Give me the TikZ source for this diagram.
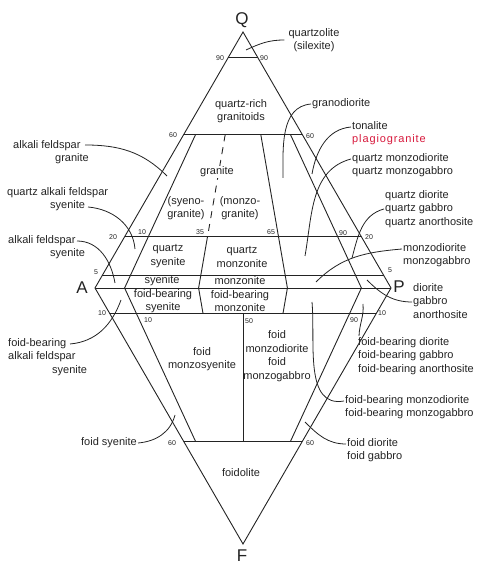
\documentclass[tikz,border=0pt]{standalone}
\usepackage{fontspec}
\setmainfont{Liberation Sans}
\newfontfamily\plagiofont[LetterSpace=8]{Liberation Sans}
\usetikzlibrary{calc}
\definecolor{ink}{RGB}{35,35,35}
\definecolor{plagio}{RGB}{215,25,60}

\begin{document}
\begin{tikzpicture}[x=1pt,y=1pt,
    ln/.style={line width=0.9pt,draw=ink},
    lead/.style={line width=0.8pt,draw=ink},
    lbl/.style={font=\fontsize{11}{13.5}\selectfont,text=ink,inner sep=1pt},
    fld/.style={lbl,align=center},
    num/.style={font=\fontsize{7}{7}\selectfont,text=ink,inner sep=0pt},
    vtx/.style={font=\fontsize{17}{17}\selectfont,text=ink,inner sep=0pt}]
  \useasboundingbox (0,0) rectangle (500,569);

  \coordinate (A) at (95,281);
  \coordinate (P) at (391,281);
  \coordinate (Q) at (243,537);
  \coordinate (F) at (243,25);
  \foreach \r in {10,35,50,65,90}
    \coordinate (b\r) at ($(A)!0.\r!(P)$);

  \draw[ln] (Q) -- (A) -- (F) -- (P) -- cycle;
  \draw[ln] (A) -- (P);
  \foreach \q in {0.9,0.6,0.2,0.05}
    \draw[ln] ($(A)!\q!(Q)$) -- ($(P)!\q!(Q)$);
  \foreach \f in {0.1,0.6}
    \draw[ln] ($(A)!\f!(F)$) -- ($(P)!\f!(F)$);
  \draw[ln] ($(b10)!0.6!(Q)$) -- (b10) -- ($(b10)!0.6!(F)$);
  \draw[ln] ($(b90)!0.6!(Q)$) -- (b90) -- ($(b90)!0.6!(F)$);
  \draw[ln] ($(b65)!0.6!(Q)$) -- (b65) -- ($(b65)!0.1!(F)$);
  \draw[ln] ($(b35)!0.2!(Q)$) -- (b35) -- ($(b35)!0.1!(F)$);
  \draw[ln,dash pattern=on 7pt off 6pt] ($(b35)!0.6!(Q)$) -- ($(b35)!0.2!(Q)$);
  \draw[ln] ($(b50)!0.1!(F)$) -- ($(b50)!0.6!(F)$);

  \node[vtx] (Qlbl) at (242,549) {Q};
  \node[vtx] (Albl) at (82,281) {A};
  \node[vtx] (Plbl) at (399,282) {P};
  \node[vtx] (Flbl) at (242,13) {F};

  \node[fld] (qrich) at (241,458) {quartz-rich\\granitoids};
  \node[fld,fill=white] (granite) at (217,397) {granite};
  \node[fld] (syeno) at (186,361) {(syeno-\\granite)};
  \node[fld] (monzo) at (240,361) {(monzo-\\granite)};
  \node[fld] (qsy) at (168,313) {quartz\\syenite};
  \node[fld] (qmz) at (242,312) {quartz\\monzonite};
  \node[fld] (sy) at (162,288) {syenite};
  \node[fld] (mz) at (240,288) {monzonite};
  \node[fld] (fbsy) at (163,268) {foid-bearing\\syenite};
  \node[fld] (fbmz) at (240,268) {foid-bearing\\monzonite};
  \node[fld] (fmzsy) at (202,210) {foid\\monzosyenite};
  \node[fld] (fmzd) at (277,213) {foid\\monzodiorite\\foid\\monzogabbro};
  \node[fld] (fdlt) at (241,96) {foidolite};

  \node[num] (q90l) at (220,511) {90};
  \node[num] (q90r) at (264,511) {90};
  \node[num] (q60l) at (173,434) {60};
  \node[num] (q60r) at (310,433) {60};
  \node[num] (q20l) at (113,332) {20};
  \node[num] (r10u) at (142,337) {10};
  \node[num] (r35u) at (200,337) {35};
  \node[num] (r65u) at (271,337) {65};
  \node[num] (r90u) at (343,336) {90};
  \node[num] (q20r) at (369,332) {20};
  \node[num] (q05l) at (96,297) {5};
  \node[num] (q05r) at (390,299) {5};
  \node[num] (f10l) at (102,256) {10};
  \node[num] (r10l) at (148,249) {10};
  \node[num] (r50l) at (249,248) {50};
  \node[num] (r90l) at (354,249) {90};
  \node[num] (f10r) at (382,256) {10};
  \node[num] (f60l) at (172,126) {60};
  \node[num] (f60r) at (310,126) {60};

  \node[lbl,align=center] (qtzlt) at (314,529) {quartzolite\\(silexite)};
  \node[lbl,anchor=west] (grdio) at (311,465) {granodiorite};
  \node[lbl,align=left,anchor=north west] (tonal) at (351,449) {tonalite\\{\plagiofont\color{plagio}plagiogranite}};
  \node[lbl,align=left,anchor=north west] (qmzd) at (351,417) {quartz monzodiorite\\quartz monzogabbro};
  \node[lbl,align=left,anchor=north west] (qdio) at (384,380) {quartz diorite\\quartz gabbro\\quartz anorthosite};
  \node[lbl,align=left,anchor=north west] (mzd) at (402,327) {monzodiorite\\monzogabbro};
  \node[lbl,align=left,anchor=north west] (dio) at (412,287) {diorite\\gabbro\\anorthosite};
  \node[lbl,align=left,anchor=north west] (fbdio) at (357,233) {foid-bearing diorite\\foid-bearing gabbro\\foid-bearing anorthosite};
  \node[lbl,align=left,anchor=north west] (fbmzd) at (344,175) {foid-bearing monzodiorite\\foid-bearing monzogabbro};
  \node[lbl,align=left,anchor=north west] (fdio) at (346,132) {foid diorite\\foid gabbro};
  \node[lbl,anchor=east] (fsy) at (138,126) {foid syenite};
  \node[lbl,align=left,anchor=north west] (fbafs) at (7,232) {foid-bearing\\alkali feldspar\\\hspace*{44pt}syenite};
  \node[lbl,align=left,anchor=north west] (afs) at (7,335) {alkali feldspar\\\hspace*{42pt}syenite};
  \node[lbl,align=left,anchor=north west] (qafs) at (6,383) {quartz alkali feldspar\\\hspace*{43pt}syenite};
  \node[lbl,align=left,anchor=north west] (afg) at (12,430) {alkali feldspar\\\hspace*{42pt}granite};

  \coordinate (qtzlt-e) at (246,519);
  \coordinate (grdio-e) at (283,391);
  \coordinate (tonal-e) at (312,395);
  \coordinate (qmzd-e) at (305,313);
  \coordinate (qdio-e) at (352,311);
  \coordinate (mzd-e) at (316,287);
  \coordinate (dio-e) at (367,289);
  \coordinate (fbdio-e) at (363,265);
  \coordinate (fbmzd-e) at (312,267);
  \coordinate (fdio-e) at (305,147);
  \coordinate (fsy-e) at (175,154);
  \coordinate (fbafs-e) at (121,269);
  \coordinate (afs-e) at (115,286);
  \coordinate (qafs-e) at (135,320);
  \coordinate (afg-e) at (167,393);

  \draw[lead] ([xshift=-3pt]qtzlt.west) to[out=180,in=25] (qtzlt-e);
  \draw[lead] (grdio.west) to[out=185,in=90] (grdio-e);
  \draw[lead] ([yshift=-7pt]tonal.north west) to[out=185,in=80] (tonal-e);
  \draw[lead] ([yshift=-7pt]qmzd.north west) to[out=195,in=80] (qmzd-e);
  \draw[lead] ([yshift=-20pt]qdio.north west) to[out=195,in=75] (qdio-e);
  \draw[lead] ([yshift=-7pt]mzd.north west) to[out=185,in=45] (mzd-e);
  \draw[lead] ([yshift=-20pt]dio.north west) to[out=180,in=-45] (dio-e);
  \draw[lead] ([xshift=2pt]fbdio.north west) to[out=88,in=-85] (fbdio-e);
  \draw[lead] ([yshift=-7pt]fbmzd.north west) to[out=190,in=-85] (fbmzd-e);
  \draw[lead] ([yshift=-7pt]fdio.north west) to[out=180,in=-45] (fdio-e);
  \draw[lead] (fsy.east) to[out=5,in=-105] (fsy-e);
  \draw[lead] ([xshift=63pt,yshift=-7pt]fbafs.north west) to[out=5,in=-110] (fbafs-e);
  \draw[lead] ([xshift=70pt,yshift=-7pt]afs.north west) to[out=0,in=100] (afs-e);
  \draw[lead] ([xshift=82pt,yshift=-21pt]qafs.north west) to[out=-5,in=95] (qafs-e);
  \draw[lead] ([xshift=73pt,yshift=-6pt]afg.north west) to[out=0,in=135] (afg-e);
\end{tikzpicture}
\end{document}
